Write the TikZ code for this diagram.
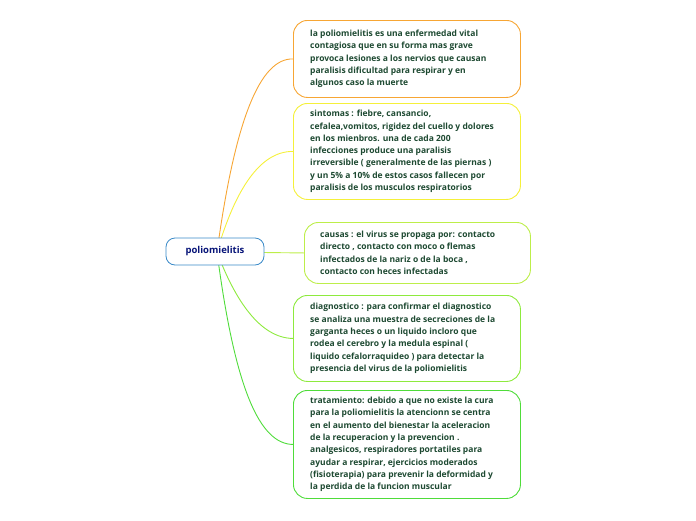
\documentclass[tikz,border=0pt]{standalone}
\usepackage{fontspec}
\setmainfont{Open Sans}
\definecolor{txt}{HTML}{1E4A32}
\definecolor{c1}{HTML}{F7A634}
\definecolor{c2}{HTML}{F5F03A}
\definecolor{c3}{HTML}{BDEE4A}
\definecolor{c4}{HTML}{8EEA3E}
\definecolor{c5}{HTML}{4FDC3A}
\definecolor{rootc}{HTML}{3A8AC8}
\begin{document}
\begin{tikzpicture}[x=1pt,y=-1pt,
 leaf/.style={draw=#1,line width=0.9pt,rounded corners=14pt,fill=white,anchor=north west,inner sep=0pt},
 ltxt/.style={text=txt,font=\fontsize{8.5}{12.3}\selectfont\bfseries,align=left,anchor=west,inner sep=0pt},
 rootst/.style={draw=rootc,line width=0.8pt,rounded corners=9pt,fill=white,minimum width=98,minimum height=27,text=txt!40!blue!70!black,font=\fontsize{9.5}{11}\selectfont\bfseries},
 con/.style={draw=#1,line width=0.9pt}]
\useasboundingbox (0,0) rectangle (696,520);
\coordinate (o) at (217,252);
\node[leaf=c1,minimum width=227,minimum height=77] (b1) at (293,20) {};
\node[leaf=c2,minimum width=227,minimum height=96] (b2) at (293,103) {};
\node[leaf=c3,minimum width=226,minimum height=61] (b3) at (304,222) {};
\node[leaf=c4,minimum width=227,minimum height=86] (b4) at (293,295) {};
\node[leaf=c5,minimum width=227,minimum height=108] (b5) at (293,390) {};
\node[ltxt] at ([xshift=17]b1.west) {la poliomielitis es una enfermedad vital\\contagiosa que en su forma mas grave\\provoca lesiones a los nervios que causan\\paralisis dificultad para respirar y en\\algunos caso la muerte};
\node[ltxt] at ([xshift=17]b2.west) {sintomas : fiebre, cansancio,\\cefalea,vomitos, rigidez del cuello y dolores\\en los mienbros. una de cada 200\\infecciones produce una paralisis\\irreversible ( generalmente de las piernas )\\y un 5\% a 10\% de estos casos fallecen por\\paralisis de los musculos respiratorios};
\node[ltxt] at ([xshift=16]b3.west) {causas : el virus se propaga por: contacto\\directo , contacto con moco o flemas\\infectados de la nariz o de la boca ,\\contacto con heces infectadas};
\node[ltxt] at ([xshift=17]b4.west) {diagnostico : para confirmar el diagnostico\\se analiza una muestra de secreciones de la\\garganta heces o un liquido incloro que\\rodea el cerebro y la medula espinal (\\liquido cefalorraquideo ) para detectar la\\presencia del virus de la poliomielitis};
\node[ltxt] at ([xshift=17]b5.west) {tratamiento: debido a que no existe la cura\\para la poliomielitis la atencionn se centra\\en el aumento del bienestar la aceleracion\\de la recuperacion y la prevencion .\\analgesicos, respiradores portatiles para\\ayudar a respirar, ejercicios moderados\\(fisioterapia) para prevenir la deformidad y\\la perdida de la funcion muscular};
\draw[con=c1] (o) .. controls (235,120) and (260,58) .. (b1.west);
\draw[con=c2] (o) .. controls (235,190) and (260,151) .. (b2.west);
\draw[con=c3] (o) -- (b3.west);
\draw[con=c4] (o) .. controls (235,300) and (260,338) .. (b4.west);
\draw[con=c5] (o) .. controls (235,390) and (260,444) .. (b5.west);
\node[rootst] (root) at (215,251.5) {poliomielitis};
\end{tikzpicture}
\end{document}
